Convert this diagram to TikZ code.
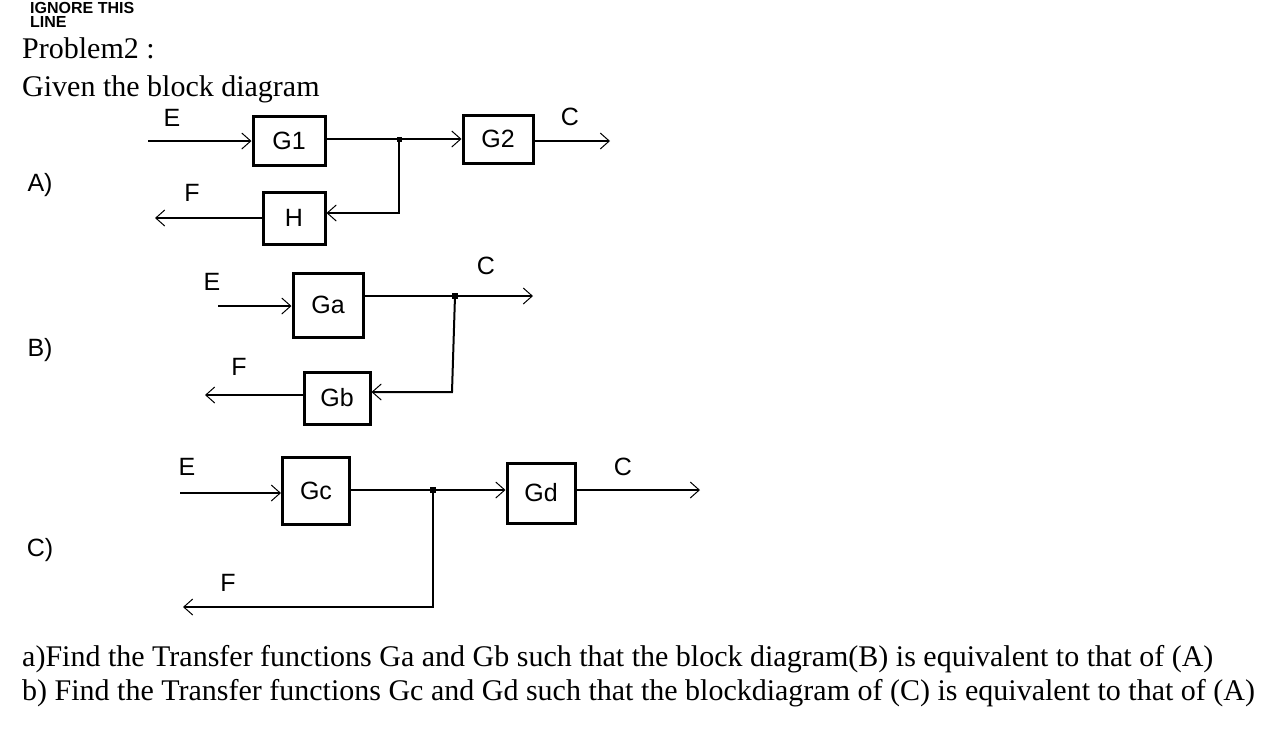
\documentclass[tikz,border=0pt]{standalone}
\usepackage{fontspec}
\setmainfont{Liberation Serif}
\newfontfamily\arial{Liberation Sans}
\usetikzlibrary{arrows.meta}
\begin{document}
\begin{tikzpicture}[x=1pt,y=-1pt,
  blk/.style={draw,line width=3pt,font=\arial\fontsize{25}{27}\selectfont,inner sep=0},
  lbl/.style={font=\arial\fontsize{25}{27}\selectfont,inner sep=0},
  ser/.style={font=\fontsize{30}{33}\selectfont,anchor=west,inner sep=0},
  ln/.style={line width=1.3pt},
  arr/.style={ln,-{Straight Barb[length=9pt,width=16pt,line width=1pt]}},
  dot/.style={fill,minimum size=6pt,inner sep=0}]
\useasboundingbox (0,0) rectangle (1280,734);
\node[font=\arial\bfseries\fontsize{16}{14}\selectfont,align=left,anchor=north west,inner sep=0] (ign) at (30,2) {IGNORE THIS\\LINE};
\node[ser] (p2) at (22,48) {Problem2 :};
\node[ser] (giv) at (22,89) {Given the block diagram};
% A
\node[lbl] (la) at (40,185) {A)};
\node[blk,minimum width=72pt,minimum height=49pt] (G1) at (289,141) {G1};
\node[blk,minimum width=70pt,minimum height=48pt] (G2) at (498,139) {G2};
\node[blk,minimum width=62pt,minimum height=52pt] (H) at (294,218) {H};
\coordinate (ea) at (148,141); \coordinate (ja) at (399,139);
\coordinate (ca) at (610,141); \coordinate (ba) at (399,213); \coordinate (fa) at (155,218);
\node[lbl] (Ea) at (172,118) {E};
\node[lbl] (Ca) at (570,117) {C};
\node[lbl] (Fa) at (192,193) {F};
\draw[arr] (ea) -- (G1.west);
\draw[ln,line width=2.5pt] (G1.east|-ja) -- (ja);
\draw[arr,line width=2pt] (ja) -- (G2.west|-ja);
\draw[arr,line width=2pt] (G2.east|-ca) -- (ca);
\draw[arr,line width=2pt] (ja) -- (ba) -- (H.east|-ba);
\draw[arr] (H.west) -- (fa);
\node[dot,minimum size=5pt] (da) at (ja) {};
% B
\node[lbl] (lb) at (40,350) {B)};
\node[blk,minimum width=70pt,minimum height=64pt] (Ga) at (328,305) {Ga};
\node[blk,minimum width=66pt,minimum height=52pt] (Gb) at (337,398) {Gb};
\coordinate (eb) at (218,306); \coordinate (jb) at (455,296); \coordinate (cb) at (533,296);
\coordinate (bb) at (452,392); \coordinate (fb) at (205,395);
\node[lbl] (Eb) at (212,282) {E};
\node[lbl] (Cb) at (486,266) {C};
\node[lbl] (Fb) at (239,367) {F};
\draw[arr] (eb) -- (Ga.west|-eb);
\draw[arr] (Ga.east|-jb) -- (cb);
\draw[arr,line width=2pt] (jb) -- (bb) -- (Gb.east|-bb);
\draw[arr] (Gb.west|-fb) -- (fb);
\node[dot] (db) at (jb) {};
% C
\node[lbl] (lc) at (40,550) {C)};
\node[blk,minimum width=67pt,minimum height=67pt] (Gc) at (316,491) {Gc};
\node[blk,minimum width=68pt,minimum height=60pt] (Gd) at (541,493) {Gd};
\coordinate (ec) at (180,493); \coordinate (jc) at (433,490); \coordinate (cc) at (700,490);
\coordinate (bc) at (433,607); \coordinate (fc) at (183,607);
\node[lbl] (Ec) at (187,467) {E};
\node[lbl] (Cc) at (623,467) {C};
\node[lbl] (Fc) at (228,583) {F};
\draw[arr,line width=2.5pt] (ec) -- (Gc.west|-ec);
\draw[ln] (Gc.east|-jc) -- (jc);
\draw[arr] (jc) -- (Gd.west|-jc);
\draw[arr] (Gd.east|-cc) -- (cc);
\draw[arr,line width=2.2pt] (jc) -- (bc) -- (fc);
\node[dot] (dc) at (jc) {};
% questions
\node[ser] (qa) at (22,659) {a)Find the Transfer functions Ga and Gb such that the block diagram(B) is equivalent to that of (A)};
\node[ser] (qb) at (22,693) {b) Find the Transfer functions Gc and Gd such that the blockdiagram of (C) is equivalent to that of (A)};
\end{tikzpicture}
\end{document}
